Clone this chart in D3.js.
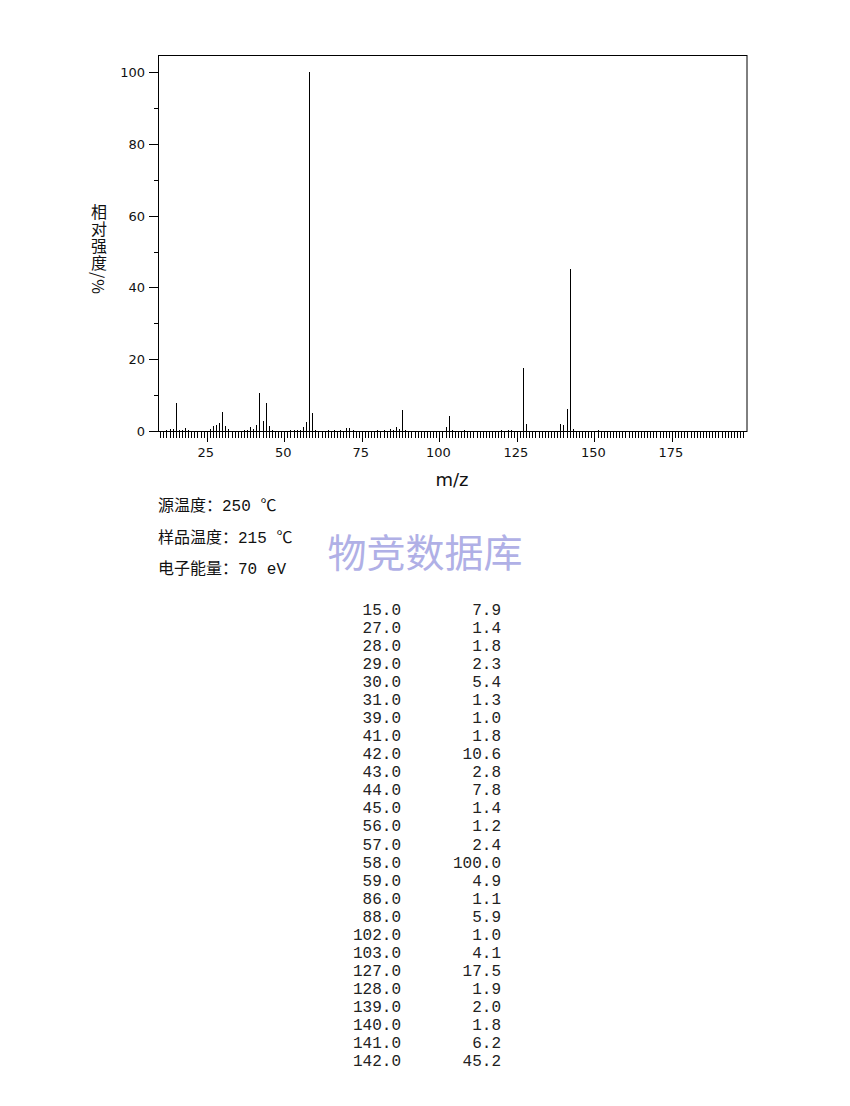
<!DOCTYPE html>
<html><head><meta charset="utf-8">
<script src="https://cdn.jsdelivr.net/npm/d3@7"></script>
<style>
html,body{margin:0;padding:0;background:#fff;}
svg{display:block;}
</style></head>
<body>
<script>
// ---- data ----
const tableMz = [15,27,28,29,30,31,39,41,42,43,44,45,56,57,58,59,86,88,102,103,127,128,139,140,141,142];
const tableInt = [7.9,1.4,1.8,2.3,5.4,1.3,1.0,1.8,10.6,2.8,7.8,1.4,1.2,2.4,100.0,4.9,1.1,5.9,1.0,4.1,17.5,1.9,2.0,1.8,6.2,45.2];
const minorMz = [12,13,14,16,17,18,19,26,32,37,38,40,46,52,53,54,55,60,64,66,68,70,71,72,80,82,84,85,87,89,104,108,120,122,123,143,151];
const minorInt = [0.3,0.5,0.65,0.4,0.4,0.8,0.4,0.65,0.5,0.4,0.4,0.6,0.4,0.4,0.4,0.4,0.4,0.4,0.4,0.2,0.2,0.9,0.9,0.4,0.4,0.4,0.55,0.4,0.5,0.4,0.4,0.4,0.4,0.4,0.4,0.5,0.4];
const xTickValues = [25,50,75,100,125,150,175];
const yTickValues = [0,20,40,60,80,100];
const infoLines = ["源温度：250 ℃","样品温度：215 ℃","电子能量：70 eV"];
const yLabel = "相对强度/%";
const xLabel = "m/z";
const watermark = "物竞数据库";

(function(){
const W = 850, H = 1106;
const svg = d3.select("body").append("svg").attr("width", W).attr("height", H);

const pL = 159, pR = 747, pT = 55, pB = 431;
const x = d3.scaleLinear().domain([9.6, 199.2]).range([pL, pR]);
const y = d3.scaleLinear().domain([0, 100]).range([pB, 72]);

const peaks = tableMz.map((m,i)=>({m, v: tableInt[i]}))
  .concat(minorMz.map((m,i)=>({m, v: minorInt[i]})));

const g = svg.append("g");

// minor x ticks every unit
const minorTicks = d3.range(10, 199);
g.selectAll("line.xt").data(minorTicks).enter().append("line")
  .attr("x1", d=>Math.round(x(d))+0.5).attr("x2", d=>Math.round(x(d))+0.5)
  .attr("y1", pB).attr("y2", d=> d%25===0 ? pB+11 : pB+7)
  .attr("stroke","#000").attr("stroke-width",1);

// peaks
g.selectAll("line.pk").data(peaks).enter().append("line")
  .attr("x1", d=>Math.round(x(d.m))+0.5).attr("x2", d=>Math.round(x(d.m))+0.5)
  .attr("y1", pB).attr("y2", d=>Math.round(y(d.v)))
  .attr("stroke","#000").attr("stroke-width",1);

// frame
g.append("rect").attr("x", pL-0.5).attr("y", pT+0.5)
  .attr("width", pR-pL+0.5).attr("height", pB-pT)
  .attr("fill","none").attr("stroke","#000").attr("stroke-width",1);

// y ticks
const yMinor = d3.range(0, 101, 10);
g.selectAll("line.yt").data(yMinor).enter().append("line")
  .attr("x1", d=> d%20===0 ? pL-10 : pL-5).attr("x2", pL)
  .attr("y1", d=>Math.round(y(d))+0.5).attr("y2", d=>Math.round(y(d))+0.5)
  .attr("stroke","#000").attr("stroke-width",1);

const axFont = "'DejaVu Sans', Verdana, sans-serif";
g.selectAll("text.yl").data(yTickValues).enter().append("text")
  .attr("x", pL-14).attr("y", d=>y(d)+5)
  .attr("text-anchor","end").attr("font-family",axFont).attr("font-size",13)
  .attr("fill","#111").text(d=>d);

g.selectAll("text.xl").data(xTickValues).enter().append("text")
  .attr("x", d=>x(d)-1).attr("y", 457)
  .attr("text-anchor","middle").attr("font-family",axFont).attr("font-size",13)
  .attr("fill","#111").text(d=>d);

g.append("text").attr("x", 452).attr("y", 486).attr("text-anchor","middle")
  .attr("font-family",axFont).attr("font-size",18).attr("fill","#111").text(xLabel);

g.append("text").attr("x", 99).attr("y", 204)
  .attr("style","writing-mode: vertical-rl; letter-spacing: 1px;")
  .attr("font-family","'Noto Sans CJK SC', sans-serif").attr("font-size",16)
  .attr("fill","#111").text(yLabel);

// info lines
const infoFont = "'Liberation Mono', 'Noto Sans CJK SC', monospace";
svg.selectAll("text.info").data(infoLines).enter().append("text")
  .attr("x", 158).attr("y", (d,i)=>511 + i*31.5)
  .attr("font-family", infoFont).attr("font-size",16).attr("fill","#111")
  .text(d=>d);

// watermark
svg.append("text").attr("x", 425).attr("y", 567).attr("text-anchor","middle")
  .attr("font-family","'Noto Sans CJK SC', sans-serif").attr("font-size",39)
  .attr("fill","#b0b0e6").text(watermark);

// table
const tf = "'Liberation Mono', 'Courier New', monospace";
const rows = svg.selectAll("g.row").data(tableMz).enter().append("g");
rows.append("text").attr("x", 401).attr("y",(d,i)=>615 + i*18.04)
  .attr("text-anchor","end").attr("font-family",tf).attr("font-size",16).attr("fill","#222")
  .text(d=>d.toFixed(1));
rows.append("text").attr("x", 501).attr("y",(d,i)=>615 + i*18.04)
  .attr("text-anchor","end").attr("font-family",tf).attr("font-size",16).attr("fill","#222")
  .text((d,i)=>tableInt[i].toFixed(1));
})();
</script>
</body></html>
